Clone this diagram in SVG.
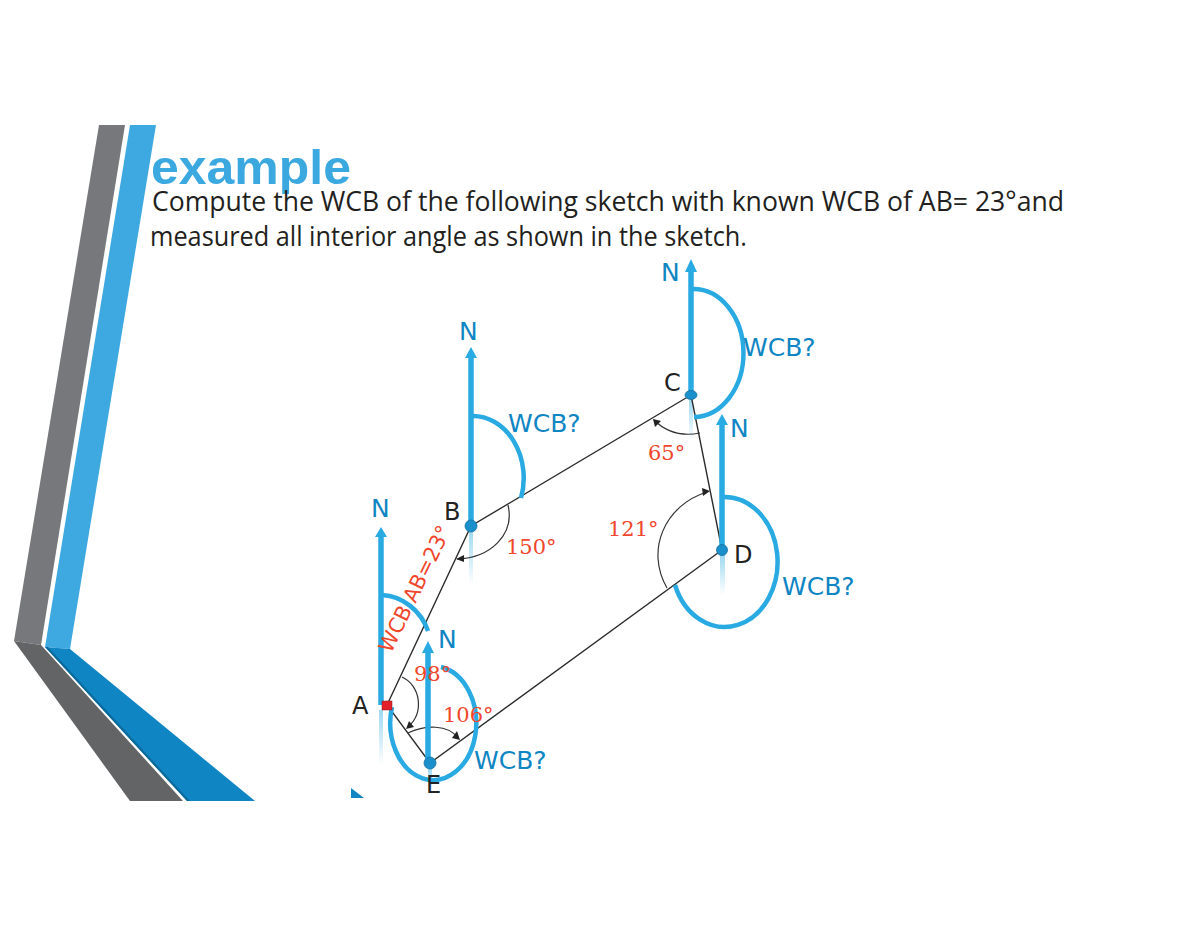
<svg xmlns="http://www.w3.org/2000/svg" width="1200" height="927" viewBox="0 0 1200 927">
<style>
.body{font-family:"Open Sans","Noto Sans",sans-serif;font-size:27px;fill:#231f20}
.title{font-family:"Liberation Sans",Arial,sans-serif;font-weight:700;font-size:49px;fill:#3ba9e0}
.n{font-family:"DejaVu Sans",sans-serif;font-size:25px;fill:#0f85c3}
.lab{font-family:"DejaVu Sans",sans-serif;font-size:24px;fill:#222}
.ang{font-family:"DejaVu Serif",serif;font-size:21px;fill:#f0462b}
.rot{font-family:"DejaVu Sans",sans-serif;font-size:21px;fill:#f0462b}
.blue{fill:none;stroke:#29aae2;stroke-width:4.5}
.north{stroke:#29aae2;stroke-width:5.5;fill:none}
.line{stroke:#2b2b2b;stroke-width:1.4;fill:none}
.dim{stroke:#333;stroke-width:1.2;fill:none}
.ah{fill:#222}
.tip{fill:#29aae2}
.pt{fill:#1b8fcc;stroke:#1570a0;stroke-width:.8}
</style>
<defs>
<linearGradient id="fade" x1="0" y1="0" x2="0" y2="1"><stop offset="0" stop-color="#29aae2" stop-opacity=".45"/><stop offset="1" stop-color="#29aae2" stop-opacity="0"/></linearGradient>
</defs>
<rect width="1200" height="927" fill="#fff"/>
<g id="decor">
<polygon points="99,125 125,125 41,645 14,641" fill="#77787b"/>
<polygon points="130,125 156,125 70,649 45,647" fill="#3ea9e1"/>
<polygon points="14,641 41,645 183,801 130,801" fill="#636466"/>
<polygon points="45,647 70,649 255,801 187,801" fill="#0f85c3"/>
<polygon points="45,647 187,801 190,801 48,647" fill="#0b6a9c"/>
<polygon points="351,788 364,798 351,798" fill="#0f85c3"/>
</g>
<g id="heading">
<text class="title" x="151" y="184" textLength="200" lengthAdjust="spacingAndGlyphs">example</text>
<text class="body" x="152" y="211" textLength="912" lengthAdjust="spacingAndGlyphs">Compute the WCB of the following sketch with known WCB of AB= 23°and</text>
<text class="body" x="150" y="246" textLength="597" lengthAdjust="spacingAndGlyphs">measured all interior angle as shown in the sketch.</text>
</g>
<g id="connectors">
<rect x="379" y="710" width="4" height="55" fill="url(#fade)"/>
<rect x="469" y="530" width="4" height="55" fill="url(#fade)"/>
<rect x="689" y="400" width="4" height="40" fill="url(#fade)"/>
<rect x="720" y="555" width="5" height="40" fill="url(#fade)"/>
<rect x="428" y="768" width="4" height="30" fill="url(#fade)"/>
<path class="line" d="M387 705L471 526L691 395L722 550L430 763Z"/>
<path class="dim" d="M402 677C420 685 425 712 408 727"/>
<path class="dim" d="M408 733C425 725 448 724 458 738"/>
<path class="dim" d="M508 505C515 535 490 558 457 559"/>
<path class="dim" d="M700 433C680 437 665 431 654 420"/>
<path class="dim" d="M667 588C645 550 665 505 707 492"/>
<polygon class="ah" points="406,729 409,721 414,727"/>
<polygon class="ah" points="460,740 452,738 457,731"/>
<polygon class="ah" points="456,559 464,555 464,562"/>
<polygon class="ah" points="653,419 661,421 655,427"/>
<polygon class="ah" points="710,491 702,488 703,496"/>
<path class="north" d="M381 535V705"/><polygon class="tip" points="381,527 375,537 387,537"/>
<path class="north" d="M471 356V526"/><polygon class="tip" points="471,347 465,358 477,358"/>
<path class="north" d="M691 266V395"/><polygon class="tip" points="691,259 685,272 697,272"/>
<path class="north" d="M722 422V550"/><polygon class="tip" points="722,414 716,425 728,425"/>
<path class="north" d="M428 650V763"/><polygon class="tip" points="428,641 422,653 434,653"/>
<path class="blue" d="M382 595C403 596 421 611 428 631"/>
<path class="blue" d="M472 416A51 62 0 0 1 521 498"/>
<path class="blue" d="M693 289A50 64 0 0 1 694 417"/>
<path class="blue" d="M723 497A53 65 0 1 1 675 585"/>
<path class="blue" d="M392 707A43 57 0 1 0 441 667"/>
</g>
<g id="node-A"><rect x="382" y="701" width="10" height="9" fill="#e3202a" stroke="#8a1d20" stroke-width=".5"/><text class="lab" x="352" y="714">A</text></g>
<g id="node-B"><circle cx="471" cy="526" r="6" class="pt"/><text class="lab" x="444" y="520">B</text></g>
<g id="node-C"><ellipse cx="691" cy="395" rx="6" ry="4.5" class="pt"/><text class="lab" x="664" y="391">C</text></g>
<g id="node-D"><circle cx="722" cy="550" r="5.5" class="pt"/><text class="lab" x="734" y="563">D</text></g>
<g id="node-E"><circle cx="430" cy="763" r="6" class="pt"/><text class="lab" x="426" y="793">E</text></g>
<g id="labels">
<text class="n" x="371" y="517">N</text>
<text class="n" x="459" y="340">N</text>
<text class="n" x="661" y="281">N</text>
<text class="n" x="730" y="437">N</text>
<text class="n" x="438" y="648">N</text>
<text class="n" x="508" y="432">WCB?</text>
<text class="n" x="743" y="356">WCB?</text>
<text class="n" x="782" y="595">WCB?</text>
<text class="n" x="474" y="769">WCB?</text>
<text class="ang" x="506" y="554">150°</text>
<text class="ang" x="648" y="460">65°</text>
<text class="ang" x="608" y="536">121°</text>
<text class="ang" x="443" y="722">106°</text>
<text class="ang" x="414" y="681">98°</text>
<text class="rot" transform="translate(391,654) rotate(-64)" textLength="138" lengthAdjust="spacingAndGlyphs">WCB AB=23°</text>
</g>
</svg>
